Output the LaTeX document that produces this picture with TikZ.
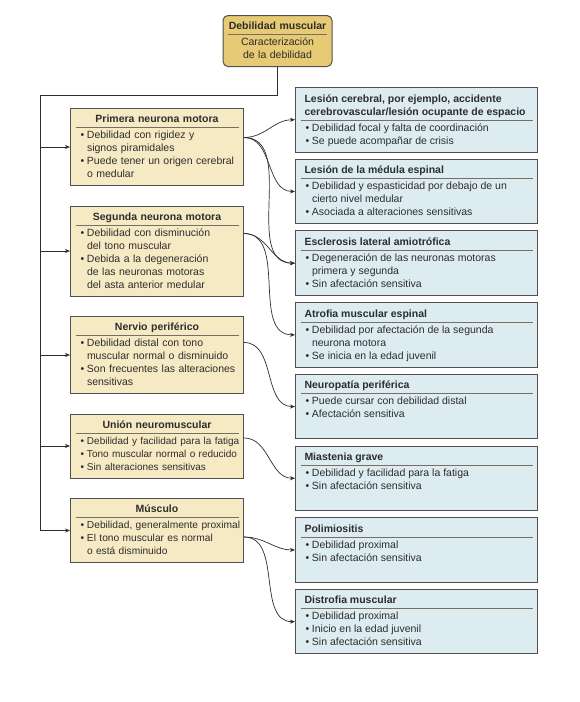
\documentclass[tikz,border=0pt]{standalone}
\usepackage{fontspec}
\setmainfont{Liberation Sans}
\usepackage{xcolor}
\usetikzlibrary{arrows.meta, positioning}
\definecolor{oro}{RGB}{231,202,116}
\definecolor{crema}{RGB}{246,234,196}
\definecolor{celeste}{RGB}{221,236,241}
\definecolor{borde}{RGB}{80,80,80}
\definecolor{linea}{RGB}{120,110,100}
\definecolor{texto}{RGB}{45,45,45}

\newcommand{\letra}{\fontsize{10.5}{13}\selectfont}
\newcommand{\letrab}{\fontsize{10}{13}\selectfont}
\newcommand{\puntal}{\rule[-3.5pt]{0pt}{13pt}}
\newcommand{\raya}{\par\nointerlineskip\vspace{1pt}\noindent{\color{linea}\rule{\hsize}{0.7pt}}\par\nointerlineskip\vspace{1.3pt}}
\newcommand{\titc}[1]{{\centering\letra\bfseries\puntal#1\puntal\par}}
\newcommand{\vineta}[1]{\par\noindent\hangindent=11.5pt\hangafter=1\rightskip=-10pt plus 1fil
	\hspace*{5pt}\makebox[6.5pt][l]{\textbullet}\puntal#1\puntal\par}
\newcommand{\cajader}[2]{\parbox[c][54.5pt][t]{232pt}{\raggedright{\leftskip=4pt\bfseries\puntal#1\puntal\par}\raya#2}}

\begin{document}
\begin{tikzpicture}[x=1pt, y=1pt,
		cabeza/.style={draw=borde, fill=oro, rounded corners=5pt, line width=1pt,
			text width=99pt, align=center, inner xsep=5pt, inner ysep=4.5pt, font=\letra, text=texto},
		izq/.style={draw=borde, fill=crema, line width=1pt,
			text width=163pt, align=left, inner xsep=5pt, inner ysep=4.5pt, font=\letra, text=texto},
		der/.style={draw=borde, fill=celeste, line width=1pt,
			inner xsep=5pt, inner ysep=5pt, font=\letra, text=texto},
		flecha/.style={-{Stealth[length=5pt, width=4pt]}, line width=0.7pt, draw=texto},
		node distance=19.5pt
	]
		\useasboundingbox[fill=white] (0,0) rectangle (579,-702);

		\node[cabeza, anchor=north] (debilidad) at (277.5,-15) {\titc{Debilidad muscular}\raya
			\puntal Caracterización\\de la debilidad\puntal};

		% causas
		\node[izq, anchor=north west] (primera) at (70,-108) {\titc{Primera neurona motora}\raya
			\vineta{Debilidad con rigidez y\newline signos piramidales}
			\vineta{Puede tener un origen cerebral\newline o medular}};
		\node[izq, below=of primera] (segunda) {\titc{Segunda neurona motora}\raya
			\vineta{Debilidad con disminución\newline del tono muscular}
			\vineta{Debida a la degeneración\newline de las neuronas motoras\newline del asta anterior medular}};
		\node[izq, below=of segunda] (nervio) {\titc{Nervio periférico}\raya
			\vineta{Debilidad distal con tono\newline muscular normal o disminuido}
			\vineta{Son frecuentes las alteraciones\newline sensitivas}};
		\node[izq, font=\letrab, below=of nervio] (union) {\titc{Unión neuromuscular}\raya
			\vineta{Debilidad y facilidad para la fatiga}
			\vineta{Tono muscular normal o reducido}
			\vineta{Sin alteraciones sensitivas}};
		\node[izq, font=\fontsize{10.2}{13}\selectfont, below=of union] (musculo) {\titc{Músculo}\raya
			\vineta{Debilidad, generalmente proximal}
			\vineta{El tono muscular es normal\newline o está disminuido}};

		% diagnosticos
		\node[der, anchor=north west] (cerebral) at (295,-87) {\cajader{Lesión cerebral, por ejemplo, accidente\\cerebrovascular/lesión ocupante de espacio}{
			\vineta{Debilidad focal y falta de coordinación}
			\vineta{Se puede acompañar de crisis}}};
		\node[der, below=6.2pt of cerebral] (medula) {\cajader{Lesión de la médula espinal}{
			\vineta{Debilidad y espasticidad por debajo de un\newline cierto nivel medular}
			\vineta{Asociada a alteraciones sensitivas}}};
		\node[der, below=6.2pt of medula] (ela) {\cajader{Esclerosis lateral amiotrófica}{
			\vineta{Degeneración de las neuronas motoras\newline primera y segunda}
			\vineta{Sin afectación sensitiva}}};
		\node[der, below=6.2pt of ela] (atrofia) {\cajader{Atrofia muscular espinal}{
			\vineta{Debilidad por afectación de la segunda\newline neurona motora}
			\vineta{Se inicia en la edad juvenil}}};
		\node[der, below=6.2pt of atrofia] (neuropatia) {\cajader{Neuropatía periférica}{
			\vineta{Puede cursar con debilidad distal}
			\vineta{Afectación sensitiva}}};
		\node[der, below=6.2pt of neuropatia] (miastenia) {\cajader{Miastenia grave}{
			\vineta{Debilidad y facilidad para la fatiga}
			\vineta{Sin afectación sensitiva}}};
		\node[der, below=6.2pt of miastenia] (polimiositis) {\cajader{Polimiositis}{
			\vineta{Debilidad proximal}
			\vineta{Sin afectación sensitiva}}};
		\node[der, below=6.2pt of polimiositis] (distrofia) {\cajader{Distrofia muscular}{
			\vineta{Debilidad proximal}
			\vineta{Inicio en la edad juvenil}
			\vineta{Sin afectación sensitiva}}};

		\coordinate (codo) at (40,-95);
		\draw[flecha] (debilidad.south) |- (codo) |- (musculo.west);
		\foreach \n in {primera,segunda,nervio,union}
			\draw[flecha] (codo |- \n.west) -- (\n.west);

		\foreach \a/\d/\b in {primera/9.5/cerebral, primera/9.5/medula, primera/9.5/ela,
				segunda/17.5/ela, segunda/17.5/atrofia, nervio/12.5/neuropatia,
				union/8/miastenia, musculo/-6.5/polimiositis, musculo/-6.5/distrofia}
			\draw[flecha] ([yshift=\d pt]\a.east) to[out=0, in=180] (\b.west);
	\end{tikzpicture}
\end{document}
